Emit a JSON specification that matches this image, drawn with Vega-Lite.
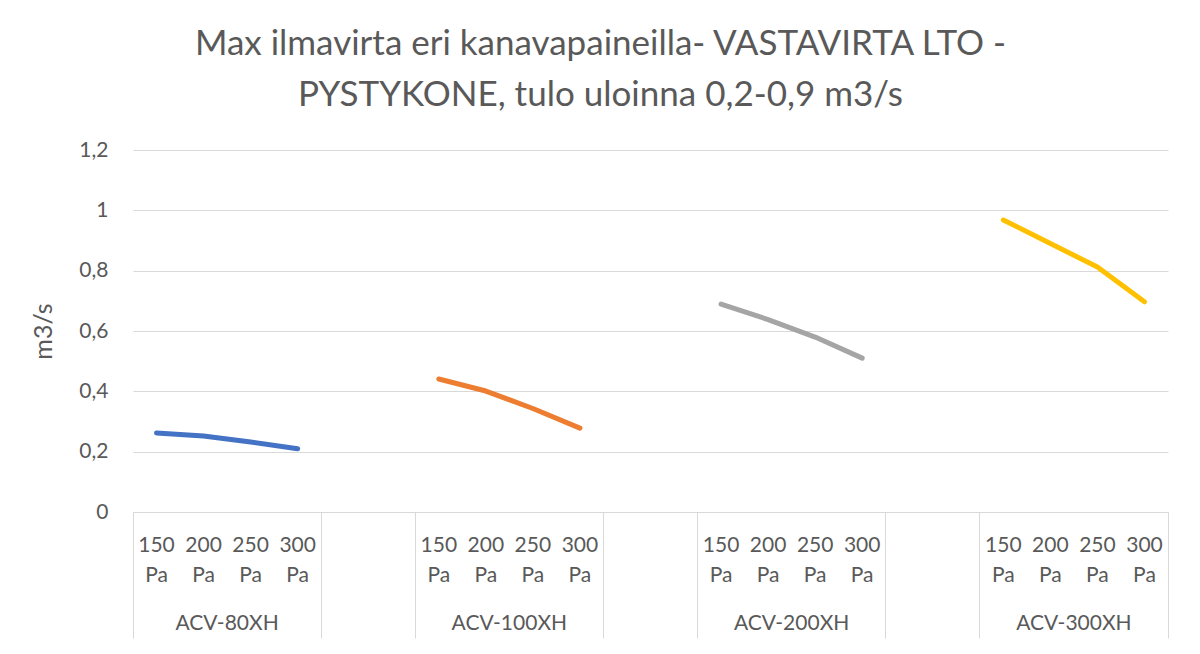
{
  "$schema": "https://vega.github.io/schema/vega-lite/v6.json",
  "width": 1035,
  "height": 362,
  "autosize": {"type": "none"},
  "padding": {"left": 133, "top": 150, "right": 32, "bottom": 142},
  "background": "white",
  "config": {
    "view": {"stroke": null},
    "font": "Lato",
    "axis": {"labelFont": "Lato", "titleFont": "Lato", "labelColor": "#595959", "titleColor": "#595959"}
  },
  "title": {
    "text": ["Max ilmavirta eri kanavapaineilla- VASTAVIRTA LTO -", "PYSTYKONE, tulo uloinna 0,2-0,9 m3/s"],
    "font": "Lato",
    "fontSize": 35,
    "fontWeight": "normal",
    "color": "#595959",
    "anchor": "middle",
    "frame": "group",
    "dx": -50,
    "lineHeight": 51,
    "offset": 26
  },
  "data": {
    "values": [
      {"model": "ACV-80XH", "key": "ACV-80XH 150 Pa", "value": 0.262},
      {"model": "ACV-80XH", "key": "ACV-80XH 200 Pa", "value": 0.252},
      {"model": "ACV-80XH", "key": "ACV-80XH 250 Pa", "value": 0.232},
      {"model": "ACV-80XH", "key": "ACV-80XH 300 Pa", "value": 0.21},
      {"model": "ACV-100XH", "key": "ACV-100XH 150 Pa", "value": 0.441},
      {"model": "ACV-100XH", "key": "ACV-100XH 200 Pa", "value": 0.401},
      {"model": "ACV-100XH", "key": "ACV-100XH 250 Pa", "value": 0.343},
      {"model": "ACV-100XH", "key": "ACV-100XH 300 Pa", "value": 0.278},
      {"model": "ACV-200XH", "key": "ACV-200XH 150 Pa", "value": 0.689},
      {"model": "ACV-200XH", "key": "ACV-200XH 200 Pa", "value": 0.638},
      {"model": "ACV-200XH", "key": "ACV-200XH 250 Pa", "value": 0.58},
      {"model": "ACV-200XH", "key": "ACV-200XH 300 Pa", "value": 0.51},
      {"model": "ACV-300XH", "key": "ACV-300XH 150 Pa", "value": 0.968},
      {"model": "ACV-300XH", "key": "ACV-300XH 200 Pa", "value": 0.89},
      {"model": "ACV-300XH", "key": "ACV-300XH 250 Pa", "value": 0.812},
      {"model": "ACV-300XH", "key": "ACV-300XH 300 Pa", "value": 0.697}
    ]
  },
  "layer": [
    {
      "mark": {"type": "line", "strokeWidth": 5, "strokeCap": "round", "strokeJoin": "round"},
      "encoding": {
        "x": {
          "field": "key", "type": "nominal", "sort": null,
          "scale": {"type": "band", "paddingInner": 0, "paddingOuter": 0,
            "domain": ["ACV-80XH 150 Pa", "ACV-80XH 200 Pa", "ACV-80XH 250 Pa", "ACV-80XH 300 Pa", "gap1a", "gap1b",
                       "ACV-100XH 150 Pa", "ACV-100XH 200 Pa", "ACV-100XH 250 Pa", "ACV-100XH 300 Pa", "gap2a", "gap2b",
                       "ACV-200XH 150 Pa", "ACV-200XH 200 Pa", "ACV-200XH 250 Pa", "ACV-200XH 300 Pa", "gap3a", "gap3b",
                       "ACV-300XH 150 Pa", "ACV-300XH 200 Pa", "ACV-300XH 250 Pa", "ACV-300XH 300 Pa"]},
          "axis": {
            "orient": "bottom", "title": null, "ticks": false, "tickSize": 0, "grid": false,
            "domain": true, "domainColor": "#d9d9d9", "domainWidth": 1,
            "labelAngle": 0, "labelFontSize": 21, "labelLineHeight": 30, "labelPadding": 22,
            "labelOverlap": false, "labelBaseline": "top",
            "labelExpr": "indexof(datum.value, 'gap') >= 0 ? '' : [slice(datum.value, -6, -3), 'Pa']"
          }
        },
        "y": {
          "field": "value", "type": "quantitative",
          "scale": {"domain": [0, 1.2], "nice": false, "zero": true},
          "axis": {
            "values": [0, 0.2, 0.4, 0.6, 0.8, 1, 1.2],
            "title": "m3/s", "titleFontSize": 25, "titleFontWeight": "normal", "titlePadding": 22,
            "domain": false, "ticks": false, "labelPadding": 25, "labelFontSize": 21,
            "gridColor": "#d9d9d9", "gridWidth": 1,
            "labelExpr": "replace(format(datum.value, '~g'), '.', ',')"
          }
        },
        "color": {
          "field": "model", "type": "nominal", "legend": null,
          "scale": {"domain": ["ACV-80XH", "ACV-100XH", "ACV-200XH", "ACV-300XH"],
                    "range": ["#4472C4", "#ED7D31", "#A5A5A5", "#FFC000"]}
        }
      }
    },
    {
      "mark": {"type": "line", "opacity": 0},
      "encoding": {
        "x": {
          "field": "key", "type": "nominal", "sort": null,
          "axis": {
            "orient": "bottom", "title": null, "ticks": false, "tickSize": 0, "grid": false, "domain": false,
            "values": ["ACV-80XH 200 Pa", "ACV-100XH 200 Pa", "ACV-200XH 200 Pa", "ACV-300XH 200 Pa"],
            "labelOffset": 23.5, "labelAngle": 0, "labelFontSize": 21, "labelPadding": 100,
            "labelOverlap": false, "labelBaseline": "top",
            "labelExpr": "split(datum.value, ' ')[0]"
          }
        },
        "y": {"field": "value", "type": "quantitative"},
        "detail": {"field": "model"}
      }
    },
    {
      "mark": {"type": "line", "opacity": 0},
      "encoding": {
        "x": {
          "field": "key", "type": "nominal", "sort": null,
          "axis": {
            "orient": "bottom", "title": null, "ticks": true, "tickSize": 126, "tickColor": "#d9d9d9", "tickWidth": 1,
            "grid": false, "domain": false, "labels": false, "bandPosition": 0,
            "values": ["ACV-80XH 150 Pa", "gap1a", "ACV-100XH 150 Pa", "gap2a", "ACV-200XH 150 Pa", "gap3a", "ACV-300XH 150 Pa"]
          }
        },
        "y": {"field": "value", "type": "quantitative"},
        "detail": {"field": "model"}
      }
    },
    {
      "mark": {"type": "line", "opacity": 0},
      "encoding": {
        "x": {
          "field": "key", "type": "nominal", "sort": null,
          "axis": {
            "orient": "bottom", "title": null, "ticks": true, "tickSize": 126, "tickColor": "#d9d9d9", "tickWidth": 1,
            "grid": false, "domain": false, "labels": false, "bandPosition": 1,
            "values": ["ACV-300XH 300 Pa"]
          }
        },
        "y": {"field": "value", "type": "quantitative"},
        "detail": {"field": "model"}
      }
    }
  ],
  "resolve": {"axis": {"x": "independent"}}
}
